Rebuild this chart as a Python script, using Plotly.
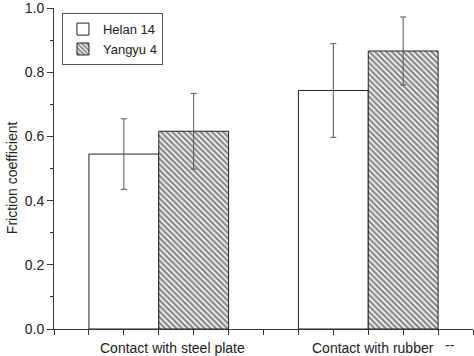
import plotly.graph_objects as go

categories = ["Contact with steel plate", "Contact with rubber"]
series_names = ["Helan 14", "Yangyu 4"]
helan_mean = [0.545, 0.743]
helan_err = [0.110, 0.146]
yangyu_mean = [0.616, 0.866]
yangyu_err = [0.118, 0.106]
y_ticks = [0.0, 0.2, 0.4, 0.6, 0.8, 1.0]
y_ticklabels = ["0.0", "0.2", "0.4", "0.6", "0.8", "1.0"]

FONT = "Liberation Sans, Arial, sans-serif"
AX = "#333333"

# group layout: each category occupies 6 x-units, bars 2 units wide
group_centers = [3 + 6 * i for i in range(len(categories))]
helan_x = [c - 1 for c in group_centers]
yangyu_x = [c + 1 for c in group_centers]

fig = go.Figure()
fig.add_trace(go.Bar(
    x=helan_x, y=helan_mean, width=2, name=series_names[0],
    marker=dict(color="white", line=dict(color="#222222", width=1)),
    error_y=dict(type="data", array=helan_err, color="#555555", thickness=1, width=3),
))
fig.add_trace(go.Bar(
    x=yangyu_x, y=yangyu_mean, width=2, name=series_names[1],
    marker=dict(color="white", line=dict(color="#222222", width=1),
                pattern=dict(shape="\\", fgcolor="#111111", bgcolor="white", size=4, solidity=0.6)),
    error_y=dict(type="data", array=yangyu_err, color="#555555", thickness=1, width=3),
))

label_shift = [14, 5]
for i, cat in enumerate(categories):
    fig.add_annotation(x=group_centers[i], y=0, xref="x", yref="paper", text=cat,
                       showarrow=False, yanchor="top", yshift=-9, xshift=label_shift[i],
                       font=dict(family=FONT, size=14, color="#222222"))
fig.add_annotation(x=11.35, y=0, xref="x", yref="paper", text="--", showarrow=False,
                   yanchor="top", yshift=-6, font=dict(family=FONT, size=14, color="#222222"))
fig.add_annotation(x=-54 / 419, y=0.47, xref="paper", yref="paper", text="Friction coefficient",
                   textangle=-90, showarrow=False, xanchor="left", xshift=2,
                   font=dict(family=FONT, size=14, color="#222222"))

fig.update_layout(
    width=474, height=356,
    margin=dict(l=54, r=1, t=8, b=27),
    paper_bgcolor="white", plot_bgcolor="white",
    barmode="overlay",
    font=dict(family=FONT, size=14, color="#222222"),
    showlegend=True,
    legend=dict(x=0.019, y=0.984, xanchor="left", yanchor="top",
                bgcolor="white", bordercolor="#555555", borderwidth=1,
                font=dict(family=FONT, size=13, color="#222222"),
                tracegroupgap=0, itemwidth=30),
    xaxis=dict(range=[0, 12], showline=True, linecolor=AX, linewidth=1,
               tickmode="linear", tick0=0, dtick=1, ticks="outside", ticklen=5,
               tickcolor=AX, showticklabels=False, showgrid=False, zeroline=False),
    yaxis=dict(range=[0, 1], showline=True, linecolor=AX, linewidth=1,
               tickmode="array", tickvals=y_ticks, ticktext=y_ticklabels,
               ticks="outside", ticklen=6, tickcolor=AX, ticklabeloverflow="allow",
               minor=dict(ticks="outside", ticklen=3, dtick=0.1, tick0=0, tickcolor=AX, showgrid=False),
               showgrid=False, zeroline=False,
               tickfont=dict(family=FONT, size=14, color="#222222")),
)

fig.write_html("out.html", config={"displayModeBar": False},
               post_script="document.body.style.margin='0';")
